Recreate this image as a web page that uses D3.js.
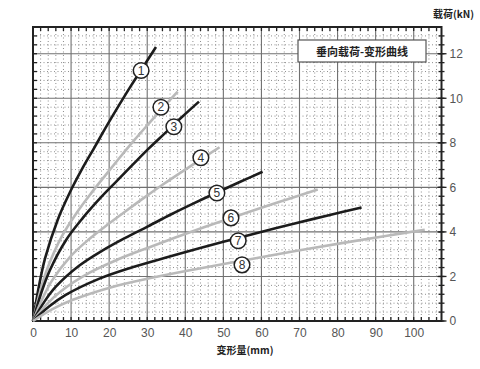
<!DOCTYPE html>
<html><head><meta charset="utf-8">
<script src="https://cdn.jsdelivr.net/npm/d3@7"></script>
<style>body{margin:0;background:#fff}svg{display:block}</style>
</head><body>
<svg id="c" width="480" height="369"></svg>
<script>
// ---- data ----
const curveNames = ["1","2","3","4","5","6","7","8"];
const curveColors = ["#1c1c1c","#b9b9b9","#1c1c1c","#b9b9b9","#1c1c1c","#b9b9b9","#1c1c1c","#b9b9b9"];
const c1x = [0,1.6,3.2,6.5,9.7,12.9,16.2,19.4,22.6,25.8,29.1,32.3];
const c1y = [0,1.6,2.83,4.55,5.78,6.83,7.81,8.77,9.69,10.58,11.45,12.3];
const c2x = [0,1.9,3.8,7.6,11.4,15.2,19,22.8,26.6,30.4,34.2,38];
const c2y = [0,1.34,2.37,3.81,4.84,5.72,6.54,7.34,8.12,8.86,9.59,10.3];
const c3x = [0,2.2,4.4,8.7,13.1,17.4,21.8,26.2,30.5,34.9,39.2,43.6];
const c3y = [0,1.28,2.27,3.64,4.63,5.47,6.25,7.02,7.76,8.47,9.17,9.85];
const c4x = [0,2.5,4.9,9.8,14.7,19.6,24.5,29.4,34.3,39.2,44.1,49];
const c4y = [0,1.01,1.79,2.89,3.67,4.33,4.95,5.56,6.15,6.71,7.26,7.8];
const c5x = [0,3,6,12.1,18.1,24.1,30.2,36.2,42.2,48.2,54.3,60.3];
const c5y = [0,0.87,1.54,2.48,3.15,3.72,4.25,4.78,5.28,5.76,6.24,6.7];
const c6x = [0,3.7,7.5,15,22.4,29.9,37.4,44.9,52.4,59.8,67.3,74.8];
const c6y = [0,0.77,1.36,2.18,2.77,3.27,3.75,4.21,4.65,5.07,5.49,5.9];
const c7x = [0,4.3,8.6,17.3,25.9,34.5,43.2,51.8,60.4,69,77.7,86.3];
const c7y = [0,0.66,1.17,1.89,2.4,2.83,3.24,3.64,4.02,4.39,4.75,5.1];
const c8x = [0,5.1,10.3,20.6,30.9,41.2,51.5,61.7,72,82.3,92.6,102.9];
const c8y = [0,0.53,0.94,1.52,1.93,2.28,2.6,2.92,3.23,3.53,3.82,4.1];
const curvesX = [c1x,c2x,c3x,c4x,c5x,c6x,c7x,c8x];
const curvesY = [c1y,c2y,c3y,c4y,c5y,c6y,c7y,c8y];
// label positions (data units)
const labelX = [28.4,33.6,37.0,44.1,48.3,52.0,53.9,54.9];
const labelY = [11.25,9.6,8.72,7.33,5.75,4.63,3.6,2.52];
const xTicks = [0,10,20,30,40,50,60,70,80,90,100];
const yTicks = [0,2,4,6,8,10,12];
const titleText = "垂向载荷-变形曲线";
const xTitle = "变形量(mm)";
const yTitle = "载荷(kN)";

// ---- layout ----
const svg = d3.select("#c");
const x = d3.scaleLinear().domain([0,107.3]).range([33,441.5]);
const y = d3.scaleLinear().domain([0,13.2]).range([321,27]);
const X0 = x(0), X1 = x(107.3), Y0 = y(0), Y1 = y(13.2);

const xMinor = d3.range(0,107.3,2);
const yMinor = d3.range(0,13.2,0.4).map(v=>+v.toFixed(2));

// minor dotted grid
const g = svg.append("g");
g.selectAll(".vm").data(xMinor.filter(v=>v%10!==0)).join("line")
  .attr("x1",d=>x(d)).attr("x2",d=>x(d)).attr("y1",Y1).attr("y2",Y0)
  .attr("stroke","#8f8f8f").attr("stroke-width",1).attr("stroke-dasharray","1,2.5");
g.selectAll(".hm").data(yMinor.filter(v=>Math.abs(v/2-Math.round(v/2))>0.01)).join("line")
  .attr("x1",X0).attr("x2",X1).attr("y1",d=>y(d)).attr("y2",d=>y(d))
  .attr("stroke","#8f8f8f").attr("stroke-width",1).attr("stroke-dasharray","1,2.5");
// major grid
g.selectAll(".vM").data(xTicks.filter(v=>v>0)).join("line")
  .attr("x1",d=>x(d)).attr("x2",d=>x(d)).attr("y1",Y1).attr("y2",Y0)
  .attr("stroke","#707070").attr("stroke-width",1.1);
g.selectAll(".hM").data(yTicks.filter(v=>v>0)).join("line")
  .attr("x1",X0).attr("x2",X1).attr("y1",d=>y(d)).attr("y2",d=>y(d))
  .attr("stroke","#707070").attr("stroke-width",1.1);

// ticks on frame
const t = svg.append("g").attr("stroke","#222").attr("stroke-width",1.3);
t.selectAll(".bt").data(xMinor).join("line")
  .attr("x1",d=>x(d)).attr("x2",d=>x(d)).attr("y1",Y0).attr("y2",Y0-4);
t.selectAll(".tt").data(xMinor).join("line")
  .attr("x1",d=>x(d)).attr("x2",d=>x(d)).attr("y1",Y1).attr("y2",Y1+4);
t.selectAll(".lt").data(yMinor).join("line")
  .attr("x1",X0).attr("x2",X0+4).attr("y1",d=>y(d)).attr("y2",d=>y(d));
t.selectAll(".rt").data(yMinor).join("line")
  .attr("x1",X1-3).attr("x2",X1+3).attr("y1",d=>y(d)).attr("y2",d=>y(d));
t.selectAll(".rT").data(yTicks).join("line")
  .attr("x1",X1-4).attr("x2",X1+5).attr("y1",d=>y(d)).attr("y2",d=>y(d));

// frame
svg.append("rect").attr("x",X0).attr("y",Y1).attr("width",X1-X0).attr("height",Y0-Y1)
  .attr("fill","none").attr("stroke","#222").attr("stroke-width",2);

// axes labels via d3 axes (domain hidden)
const xa = svg.append("g").attr("transform",`translate(0,${Y0})`)
  .call(d3.axisBottom(x).tickValues(xTicks).tickSize(0).tickPadding(7));
xa.select(".domain").remove();
xa.selectAll("text").attr("font-family","Liberation Sans, Arial, sans-serif").attr("font-size",12).attr("fill","#555");
const ya = svg.append("g").attr("transform",`translate(${X1},0)`)
  .call(d3.axisRight(y).tickValues(yTicks).tickSize(0).tickPadding(8));
ya.select(".domain").remove();
ya.selectAll("text").attr("font-family","Liberation Sans, Arial, sans-serif").attr("font-size",12).attr("fill","#555");

// curves
const line = d3.line().x(d=>x(d[0])).y(d=>y(d[1])).curve(d3.curveCatmullRom.alpha(0.5));
curvesX.forEach((xs,i)=>{
  const pts = xs.map((v,j)=>[v,curvesY[i][j]]);
  svg.append("path").attr("d",line(pts)).attr("fill","none")
    .attr("stroke",curveColors[i]).attr("stroke-width",2.6).attr("stroke-linecap","butt");
});

// circled labels
curveNames.forEach((n,i)=>{
  const cx = x(labelX[i]), cy = y(labelY[i]);
  svg.append("circle").attr("cx",cx).attr("cy",cy).attr("r",7.8)
    .attr("fill","#fff").attr("stroke","#222").attr("stroke-width",1.5);
  svg.append("text").attr("x",cx).attr("y",cy+4.2).attr("text-anchor","middle")
    .attr("font-family","Liberation Sans, Arial, sans-serif").attr("font-size",12).attr("fill","#333").text(n);
});

// legend/title box
svg.append("rect").attr("x",298).attr("y",40).attr("width",128).attr("height",22)
  .attr("fill","#fff").attr("stroke","#555").attr("stroke-width",1.2);
svg.append("text").attr("x",362).attr("y",55.5).attr("text-anchor","middle")
  .attr("font-family","Noto Sans CJK SC, sans-serif").attr("font-weight","bold").attr("font-size",11).attr("fill","#222")
  .text(titleText);

// axis titles
svg.append("text").attr("x",245).attr("y",354).attr("text-anchor","middle")
  .attr("font-family","Noto Sans CJK SC, sans-serif").attr("font-weight","bold").attr("font-size",10).attr("fill","#222")
  .text(xTitle);
svg.append("text").attr("x",474).attr("y",18).attr("text-anchor","end")
  .attr("font-family","Noto Sans CJK SC, sans-serif").attr("font-weight","bold").attr("font-size",10).attr("fill","#222")
  .text(yTitle);
</script>
</body></html>
